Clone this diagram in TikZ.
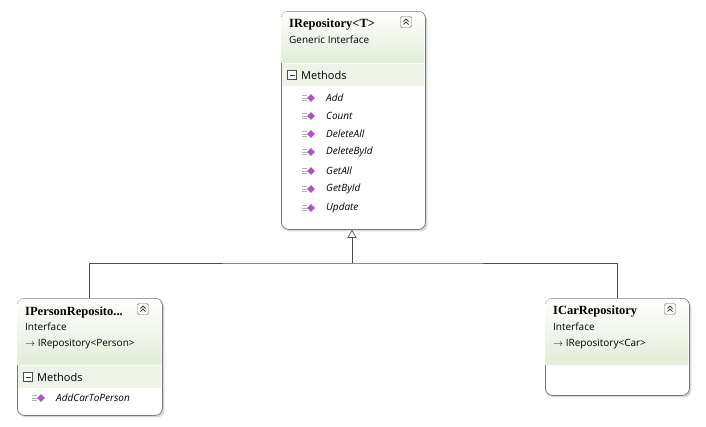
\documentclass[tikz,border=0pt]{standalone}
\usepackage{fontspec}
\setmainfont{Open Sans}
\newfontfamily\titlefont{Liberation Serif}
\usetikzlibrary{positioning,arrows.meta,shadows,shapes.geometric}
\definecolor{hdrgreen}{HTML}{E2ECD6}
\definecolor{bandgreen}{HTML}{EEF3E8}
\definecolor{framegray}{HTML}{777777}
\definecolor{methpurple}{HTML}{B44FC8}
\tikzset{
  box/.style={draw=framegray, fill=white, rounded corners=7pt, line width=0.8pt,
    drop shadow={shadow xshift=2pt, shadow yshift=-2pt, fill=black!25, opacity=0.6}},
  title/.style={anchor=west, font=\titlefont\bfseries\fontsize{12.5}{14}\selectfont, inner sep=0pt},
  info/.style={anchor=west, font=\fontsize{10}{12}\selectfont, inner sep=0pt},
  meth/.style={anchor=west, font=\itshape\fontsize{10}{12}\selectfont, inner sep=0pt},
  icon/.style={diamond, fill=methpurple, inner sep=0pt, minimum size=8pt},
  link/.style={draw=black!70, line width=0.6pt}
}
% header and toggle of a class box
\newcommand{\boxhead}[5]{% x1, y1, x2, y of header bottom, name
  \shade[top color=white, bottom color=hdrgreen]
    (#1+0.6,#4) [rounded corners=6pt]-- (#1+0.6,#2+0.6) -- (#3-0.6,#2+0.6) [sharp corners]-- (#3-0.6,#4) -- cycle;
  \node[draw=black!60, fill=white, rounded corners=1.5pt, minimum size=11pt, inner sep=0pt] (#5) at (#3-19,#2+11) {};
  \draw[black!75, line width=0.8pt] ([shift={(-2.5,-0.5)}]#5.center) -- ([shift={(0,-3)}]#5.center) -- ([shift={(2.5,-0.5)}]#5.center);
  \draw[black!75, line width=0.8pt] ([shift={(-2.5,2.5)}]#5.center) -- ([shift={(0,0)}]#5.center) -- ([shift={(2.5,2.5)}]#5.center);
}
\newcommand{\methodsband}[4]{% x1, x2, y, name
  \fill[bandgreen] (#1+0.6,#3) rectangle (#2-0.6,#3+22);
  \node[draw=black!70, fill=white, minimum size=9pt, inner sep=0pt] (#4) at (#1+11,#3+11) {};
  \draw[black!80, line width=0.8pt] ([xshift=-2.5]#4.center) -- ([xshift=2.5]#4.center);
  \node[info, font=\fontsize{11}{13}\selectfont] at (#1+20,#3+11) {Methods};
}
\newcommand{\method}[4]{% x, y, name, text
  \draw[black!30, line width=0.5pt] (#1-8,#2-2.5) -- (#1-3,#2-2.5) (#1-8,#2) -- (#1-3,#2) (#1-8,#2+2.5) -- (#1-3,#2+2.5);
  \node[icon] (#3) at (#1+1,#2) {};
  \node[meth] at (#1+16,#2) {#4};
}
\begin{document}
\begin{tikzpicture}[x=1pt, y=-1pt]
\useasboundingbox (0,0) rectangle (706,426);
% boxes
\node[box, anchor=north west, minimum width=144pt, minimum height=218pt] (repo) at (281,11) {};
\node[box, anchor=north west, minimum width=145pt, minimum height=117pt] (person) at (17,298) {};
\node[box, anchor=north west, minimum width=144pt, minimum height=97pt] (car) at (545,298) {};
% IRepository<T>
\boxhead{281}{11}{425}{63}{repotog}
\node[title] at (289,25) {IRepository<T>};
\node[info] at (289,40) {Generic Interface};
\methodsband{281}{425}{64}{repometh}
\method{310}{98}{madd}{Add}
\method{310}{116}{mcount}{Count}
\method{310}{134}{mdelall}{DeleteAll}
\method{310}{152}{mdelid}{DeleteById}
\method{310}{171}{mgetall}{GetAll}
\method{310}{189}{mgetid}{GetById}
\method{310}{208}{mupdate}{Update}
% IPersonRepository
\boxhead{17}{298}{162}{365}{persontog}
\node[title] at (25,312) {IPersonReposito...};
\node[info] at (25,327) {Interface};
\node[info] at (25,344) {$\rightarrow$ IRepository<Person>};
\methodsband{17}{162}{366}{personmeth}
\method{40}{398}{maddcar}{AddCarToPerson}
% ICarRepository
\boxhead{545}{298}{689}{365}{cartog}
\node[title] at (553,312) {ICarRepository};
\node[info] at (553,327) {Interface};
\node[info] at (553,344) {$\rightarrow$ IRepository<Car>};
% inheritance
\coordinate (join) at (352,263);
\coordinate (pin) at (89,298);
\coordinate (cin) at (617,298);
\draw[link, -{Triangle[open, width=9pt, length=8pt]}] (join) -- (repo.south -| join);
\draw[link] (pin) |- (join) -| (cin);
\end{tikzpicture}
\end{document}
